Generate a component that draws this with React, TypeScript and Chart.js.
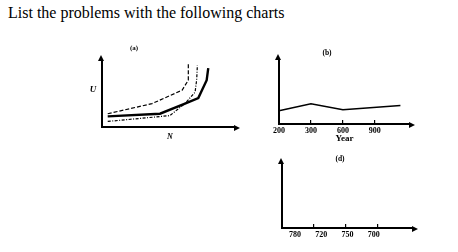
import React, { useEffect, useRef } from 'react';
import { Chart, registerables } from 'chart.js';

Chart.register(...registerables);

const titleText = 'List the problems with the following charts';

// (a) U against N, three curves
const aSolidN = [4.3, 43.6, 62.4, 72.4, 78.7, 79.9];
const aSolidU = [15.8, 19.8, 34.9, 43.3, 69.9, 88];
const aDashN = [4.3, 37.6, 60.2, 64.9, 64.9];
const aDashU = [19.8, 34.9, 54.9, 69.9, 96];
const aDotN = [4.3, 51, 62.4, 70, 71.2, 71.7];
const aDotU = [8.3, 17, 35, 52, 71, 92];

// (b) value by year (axis slots)
const bYearLabels = ['200', '300', '600', '900'];
const bLineSlot = [0, 1, 2, 3.8];
const bLineValue = [20.4, 31.1, 21.9, 28.5];

// (d) empty chart with tick labels
const dTickLabels = ['780', '720', '750', '700', ''];

const toPts = (xs: number[], ys: number[]) => xs.map((x, i) => ({ x, y: ys[i] }));

const SERIF = '"Liberation Serif", serif';

const decorPlugin = {
  id: 'decor',
  afterDraw(chart: any, _args: any, opts: any) {
    const { ctx, chartArea: ca } = chart;
    ctx.save();
    ctx.fillStyle = '#000';
    const xl = ca.left - 1;
    ctx.beginPath();
    ctx.moveTo(xl, ca.top - 5);
    ctx.lineTo(xl - 3, ca.top + 1);
    ctx.lineTo(xl + 3, ca.top + 1);
    ctx.closePath();
    ctx.fill();
    const yb = ca.bottom + 1;
    ctx.beginPath();
    ctx.moveTo(ca.right + 5, yb);
    ctx.lineTo(ca.right - 1, yb - 3);
    ctx.lineTo(ca.right - 1, yb + 3);
    ctx.closePath();
    ctx.fill();
    (opts.labels || []).forEach((l: any) => {
      ctx.font = l.font;
      ctx.textAlign = 'center';
      ctx.textBaseline = 'middle';
      ctx.fillText(l.text, l.x, l.y);
    });
    ctx.restore();
  },
};

const hiddenAxis = (size: number, horizontal: boolean) => ({
  type: 'linear',
  min: 0,
  max: 100,
  grid: { display: false, drawTicks: false },
  ticks: { display: false },
  border: { display: true, color: '#000', width: 2 },
  afterFit: (s: any) => {
    if (horizontal) s.height = size;
    else s.width = size;
  },
});

const baseOptions = (padding: any, labels: any[]) => ({
  responsive: false,
  animation: false,
  devicePixelRatio: 1,
  layout: { padding },
  plugins: {
    legend: { display: false },
    tooltip: { enabled: false },
    title: { display: false },
    decor: { labels },
  },
});

const configA = () => ({
  type: 'line',
  data: {
    datasets: [
      { data: toPts(aSolidN, aSolidU), borderColor: '#000', borderWidth: 2.4, pointRadius: 0, tension: 0, clip: false },
      { data: toPts(aDashN, aDashU), borderColor: '#000', borderWidth: 1.2, borderDash: [4, 2], pointRadius: 0, tension: 0, clip: false },
      { data: toPts(aDotN, aDotU), borderColor: '#000', borderWidth: 1.2, borderDash: [3, 1.5, 1, 1.5], pointRadius: 0, tension: 0, clip: false },
    ],
  },
  options: {
    ...baseOptions({ left: 22, top: 20, right: 15, bottom: 23 }, [
      { text: '(a)', x: 54, y: 8, font: `bold 7px ${SERIF}` },
      { text: 'U', x: 13, y: 50, font: `italic bold 9px ${SERIF}` },
      { text: 'N', x: 90, y: 97, font: `italic bold 8px ${SERIF}` },
    ]),
    scales: {
      x: hiddenAxis(0, true),
      y: hiddenAxis(0, false),
    },
  },
  plugins: [decorPlugin],
});

const configB = () => ({
  type: 'line',
  data: {
    datasets: [
      { data: toPts(bLineSlot, bLineValue), borderColor: '#000', borderWidth: 1.5, pointRadius: 0, tension: 0, clip: false },
    ],
  },
  options: {
    ...baseOptions({ left: 19, top: 19, right: 20, bottom: 6 }, [
      { text: '(b)', x: 67, y: 13, font: `bold 7.5px ${SERIF}` },
    ]),
    scales: {
      x: {
        type: 'linear',
        min: 0,
        max: 4.1,
        afterBuildTicks: (s: any) => {
          s.ticks = bYearLabels.map((_, i) => ({ value: i }));
        },
        ticks: {
          autoSkip: false,
          maxRotation: 0,
          padding: 6.5,
          color: '#000',
          font: { family: SERIF, size: 8, weight: 'bold' },
          callback: (_v: any, i: number) => bYearLabels[i],
        },
        grid: {
          display: true,
          drawOnChartArea: false,
          drawTicks: true,
          tickLength: -4,
          lineWidth: 1.2,
          color: (c: any) => (c.index === 0 ? 'rgba(0,0,0,0)' : '#000'),
        },
        border: { display: true, color: '#000', width: 2 },
        title: {
          display: true,
          text: 'Year',
          color: '#000',
          padding: 0,
          font: { family: SERIF, size: 9, weight: 'bold' },
        },
        afterFit: (s: any) => {
          s.height = 20;
        },
      },
      y: hiddenAxis(0, false),
    },
  },
  plugins: [decorPlugin],
});

const configD = () => ({
  type: 'line',
  data: { labels: dTickLabels, datasets: [] },
  options: {
    ...baseOptions({ left: 22, top: 13, right: 17, bottom: 5 }, [
      { text: '(d)', x: 80, y: 9, font: `bold 7.5px ${SERIF}` },
    ]),
    scales: {
      x: {
        type: 'linear',
        min: 0,
        max: 4.12,
        position: 'bottom',
        afterBuildTicks: (s: any) => {
          s.ticks = [1, 2, 3].map((v) => ({ value: v }));
        },
        ticks: { display: false },
        grid: {
          display: true,
          drawOnChartArea: false,
          drawTicks: true,
          tickLength: -4,
          lineWidth: 1.2,
          color: '#000',
        },
        border: { display: true, color: '#000', width: 2 },
        afterFit: (s: any) => {
          s.height = 0;
        },
      },
      x2: {
        type: 'category',
        labels: dTickLabels,
        position: 'bottom',
        offset: true,
        grid: { display: false, drawTicks: false },
        border: { display: false },
        ticks: {
          autoSkip: false,
          maxRotation: 0,
          padding: 2.5,
          color: '#000',
          font: { family: SERIF, size: 8, weight: 'bold' },
        },
        afterFit: (s: any) => {
          s.height = 12;
        },
      },
      y: hiddenAxis(0, false),
    },
  },
  plugins: [decorPlugin],
});

function ChartBox({ left, top, width, height, config }: any) {
  const ref = useRef<HTMLCanvasElement | null>(null);
  useEffect(() => {
    if (!ref.current) return;
    const chart = new Chart(ref.current, config() as any);
    return () => chart.destroy();
  }, []);
  return (
    <div style={{ position: 'absolute', left, top, width, height }}>
      <canvas ref={ref} width={width} height={height} style={{ display: 'block', width, height }} />
    </div>
  );
}

export default function App() {
  return (
    <div style={{ position: 'absolute', left: 0, top: 0, width: 458, height: 252, background: '#fff', overflow: 'hidden' }}>
      <div
        style={{
          position: 'absolute',
          left: 8,
          top: 4,
          fontFamily: '"Liberation Serif", "Times New Roman", serif',
          fontSize: 16,
          lineHeight: '18px',
          color: '#000',
          whiteSpace: 'nowrap',
        }}
      >
        {titleText}
      </div>
      <ChartBox left={80} top={40} width={170} height={110} config={configA} />
      <ChartBox left={260} top={40} width={170} height={110} config={configB} />
      <ChartBox left={260} top={150} width={170} height={95} config={configD} />
    </div>
  );
}
